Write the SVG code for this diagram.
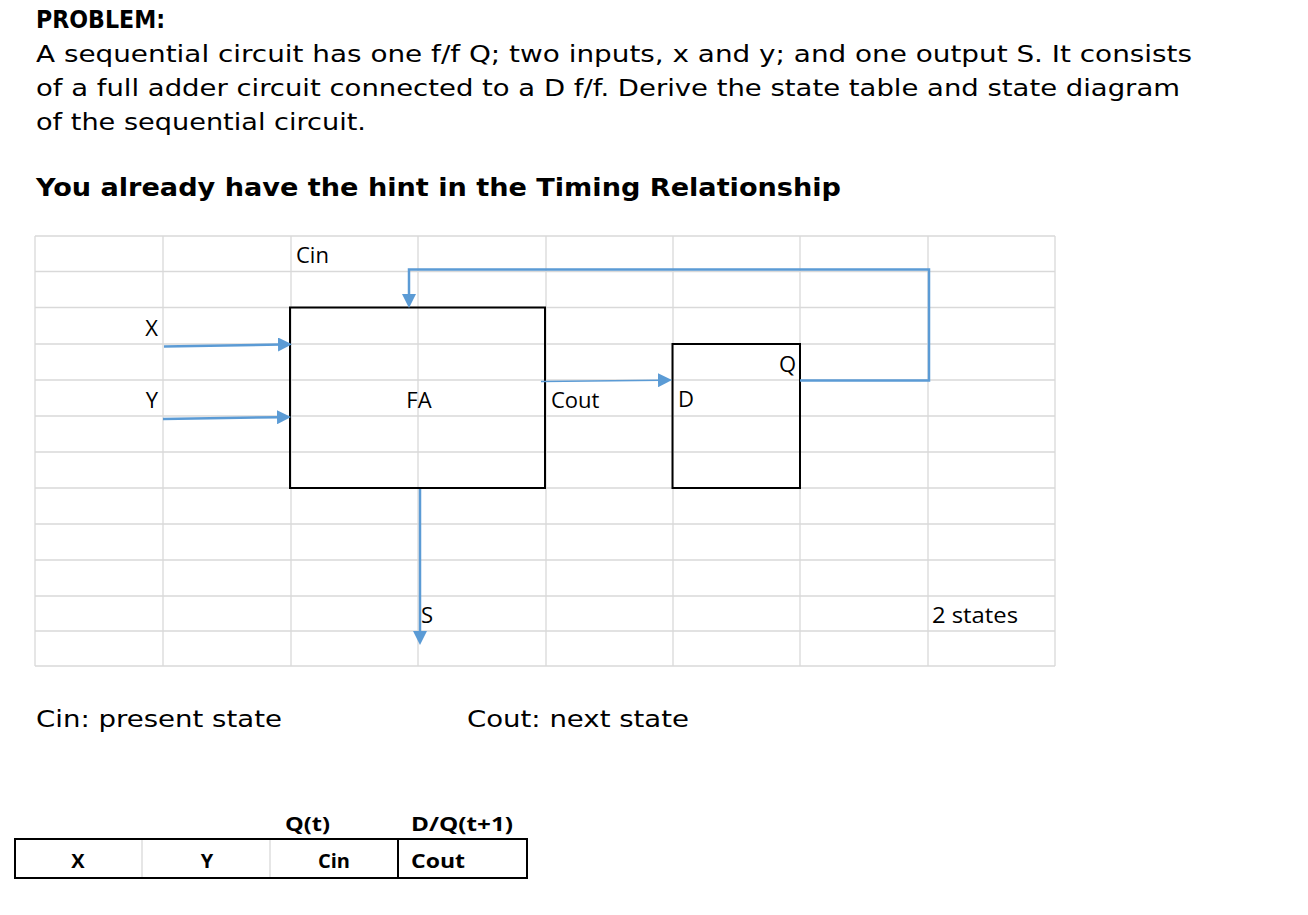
<svg xmlns="http://www.w3.org/2000/svg" width="1308" height="915" viewBox="0 0 1308 915">
<style>
.hd{font-family:"DejaVu Sans","Verdana",sans-serif;fill:#000}
.b{font-weight:bold}
.gt{font-family:"Open Sans","Noto Sans",sans-serif;font-size:22px;fill:#000}
.tb{font-family:"Open Sans","Noto Sans",sans-serif;font-size:20px;font-weight:bold;fill:#000}
.grid line{stroke:#d9d9d9;stroke-width:1.3}
.box{fill:none;stroke:#000;stroke-width:2}
.wire{fill:none;stroke:#5b9bd5;stroke-width:2.5}
.thin{stroke-width:1.6}
</style>
<defs>
<marker id="ah" viewBox="0 0 14 14" refX="3" refY="7" markerWidth="14" markerHeight="14" markerUnits="userSpaceOnUse" orient="auto">
<path d="M0,0 L14,7 L0,14 z" fill="#5b9bd5"/>
</marker>
</defs>
<rect width="1308" height="915" fill="#fff"/>

<g id="header">
<text class="hd b" x="36" y="28" font-size="24" textLength="129" lengthAdjust="spacingAndGlyphs">PROBLEM:</text>
<text class="hd" x="36" y="62" font-size="23" textLength="1156" lengthAdjust="spacingAndGlyphs">A sequential circuit has one f/f Q; two inputs, x and y; and one output S. It consists</text>
<text class="hd" x="36" y="96" font-size="23" textLength="1144" lengthAdjust="spacingAndGlyphs">of a full adder circuit connected to a D f/f. Derive the state table and state diagram</text>
<text class="hd" x="36" y="130" font-size="23" textLength="330" lengthAdjust="spacingAndGlyphs">of the sequential circuit.</text>
<text class="hd b" x="36" y="196" font-size="24" textLength="805" lengthAdjust="spacingAndGlyphs">You already have the hint in the Timing Relationship</text>
</g>

<g id="grid" class="grid">
<line x1="35" y1="236" x2="1055" y2="236"/>
<line x1="35" y1="271.5" x2="1055" y2="271.5"/>
<line x1="35" y1="307.5" x2="1055" y2="307.5"/>
<line x1="35" y1="344" x2="1055" y2="344"/>
<line x1="35" y1="380" x2="1055" y2="380"/>
<line x1="35" y1="416" x2="1055" y2="416"/>
<line x1="35" y1="452" x2="1055" y2="452"/>
<line x1="35" y1="488" x2="1055" y2="488"/>
<line x1="35" y1="524" x2="1055" y2="524"/>
<line x1="35" y1="560" x2="1055" y2="560"/>
<line x1="35" y1="596" x2="1055" y2="596"/>
<line x1="35" y1="631" x2="1055" y2="631"/>
<line x1="35" y1="666" x2="1055" y2="666"/>
<line x1="35" y1="236" x2="35" y2="666"/>
<line x1="163" y1="236" x2="163" y2="666"/>
<line x1="291" y1="236" x2="291" y2="666"/>
<line x1="418" y1="236" x2="418" y2="666"/>
<line x1="546" y1="236" x2="546" y2="666"/>
<line x1="673" y1="236" x2="673" y2="666"/>
<line x1="800" y1="236" x2="800" y2="666"/>
<line x1="928" y1="236" x2="928" y2="666"/>
<line x1="1055" y1="236" x2="1055" y2="666"/>
</g>

<g id="fa">
<rect class="box" x="290" y="307.5" width="255" height="180.5"/>
<text class="gt" x="419" y="408" text-anchor="middle">FA</text>
</g>

<g id="dff">
<rect class="box" x="672.5" y="344" width="127.5" height="144"/>
<text class="gt" x="678" y="407">D</text>
<text class="gt" x="796" y="372" text-anchor="end">Q</text>
</g>

<g id="labels">
<text class="gt" x="296" y="263">Cin</text>
<text class="gt" x="158" y="336" text-anchor="end">X</text>
<text class="gt" x="158" y="408" text-anchor="end">Y</text>
<text class="gt" x="551" y="408">Cout</text>
<text class="gt" x="421" y="623">S</text>
<text class="gt" x="932" y="623" textLength="86" lengthAdjust="spacingAndGlyphs">2 states</text>
</g>

<g id="connectors">
<path class="wire" d="M164,346.5 L281,344.5" marker-end="url(#ah)"/>
<path class="wire" d="M163,419 L280,417.2" marker-end="url(#ah)"/>
<path class="wire" d="M800,380.5 H929 V269.5 H409 V297" marker-end="url(#ah)"/>
<path class="wire thin" d="M541,381.5 L661,380.2" marker-end="url(#ah)"/>
<path class="wire" d="M420,489 V634" marker-end="url(#ah)"/>
</g>

<g id="notes">
<text class="hd" x="36" y="727" font-size="23" textLength="246" lengthAdjust="spacingAndGlyphs">Cin: present state</text>
<text class="hd" x="467" y="727" font-size="23" textLength="222" lengthAdjust="spacingAndGlyphs">Cout: next state</text>
</g>

<g id="table">
<line x1="142" y1="839" x2="142" y2="878" stroke="#d9d9d9" stroke-width="1.3"/>
<line x1="270" y1="839" x2="270" y2="878" stroke="#d9d9d9" stroke-width="1.3"/>
<rect x="15" y="839" width="512" height="39" fill="none" stroke="#000" stroke-width="2"/>
<line x1="398" y1="839" x2="398" y2="878" stroke="#000" stroke-width="2"/>
<text class="tb" x="285" y="831" textLength="45" lengthAdjust="spacingAndGlyphs">Q(t)</text>
<text class="tb" x="411" y="831" textLength="102" lengthAdjust="spacingAndGlyphs">D/Q(t+1)</text>
<text class="tb" x="78" y="868" text-anchor="middle">X</text>
<text class="tb" x="207" y="868" text-anchor="middle">Y</text>
<text class="tb" x="334" y="868" text-anchor="middle">Cin</text>
<text class="tb" x="411" y="868" textLength="54" lengthAdjust="spacingAndGlyphs">Cout</text>
</g>
</svg>
